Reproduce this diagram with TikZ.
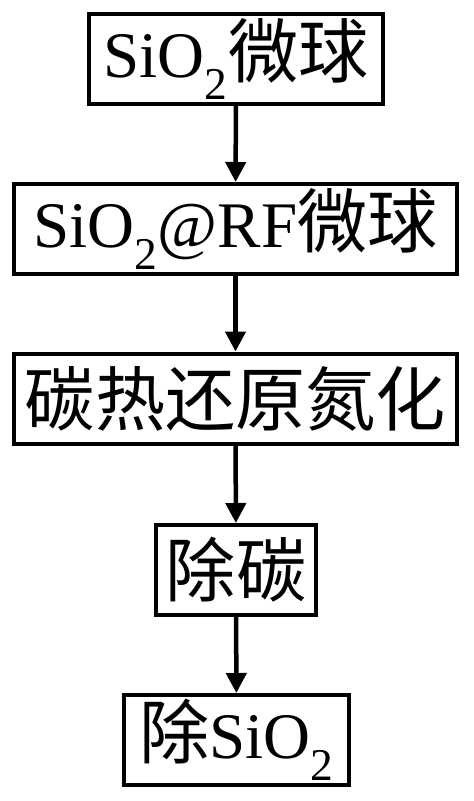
\documentclass[tikz,border=0pt]{standalone}
\usepackage{fontspec}
\setmainfont{Liberation Serif}
\newfontfamily\cjk[Scale=1.08]{Noto Sans CJK SC}
\usepackage{tikz}
\usetikzlibrary{arrows.meta}

\begin{document}
\begin{tikzpicture}[x=1pt,y=-1pt,
    stepbox/.style={draw,line width=4pt,inner sep=0pt,minimum height=90pt,
      font=\fontsize{65}{65}\selectfont},
    flowarrow/.style={line width=4.5pt,-{Triangle[length=20pt,width=20pt]}}]
      \useasboundingbox (0,0) rectangle (474,801);
      \node[stepbox,minimum width=294pt] (sio) at (236,59) {SiO\textsubscript{2}{\cjk 微球}};
      \node[stepbox,minimum width=443pt] (rf) at (235.5,229) {SiO\textsubscript{2}@RF{\cjk 微球}};
      \node[stepbox,minimum width=443pt] (nitr) at (235.5,398.5) {\cjk 碳热还原氮化};
      \node[stepbox,minimum width=160pt] (decarb) at (236,570) {\cjk 除碳};
      \node[stepbox,minimum width=225pt] (desio) at (236.5,740) {{\cjk 除}SiO\textsubscript{2}};
      \foreach \a/\b in {sio/rf,rf/nitr,nitr/decarb,decarb/desio}{
        \draw[flowarrow] (\a) -- (\b);
      }
    \end{tikzpicture}
\end{document}
